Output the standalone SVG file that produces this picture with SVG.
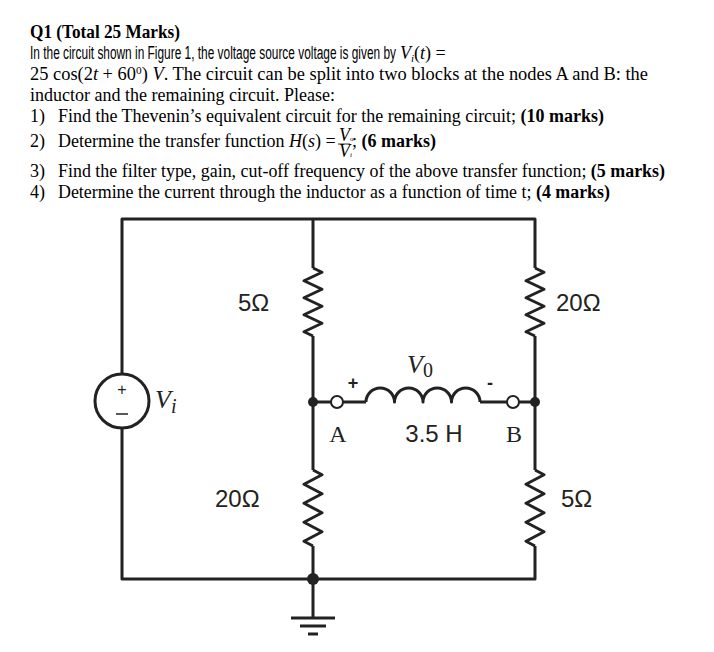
<svg xmlns="http://www.w3.org/2000/svg" width="714" height="652" viewBox="0 0 714 652">
<style>
.t{font-family:"Liberation Serif",serif;font-size:18px;fill:#000}
.c{font-family:"Liberation Sans",sans-serif;font-size:18px;fill:#000}
.w{stroke:#222;stroke-width:3;fill:none;stroke-linejoin:round}
.l{font-family:"Liberation Sans",sans-serif;font-size:24px;fill:#222}
.i{font-family:"Liberation Serif",serif;font-style:italic;font-size:26px;fill:#222}
</style>
<rect width="714" height="652" fill="#fff"/>
<g id="text">
<text class="t" x="30" y="38" font-weight="bold" textLength="150" lengthAdjust="spacingAndGlyphs">Q1 (Total 25 Marks)</text>
<text class="c" x="30" y="59" textLength="366" lengthAdjust="spacingAndGlyphs">In the circuit shown in Figure 1, the voltage source voltage is given by</text>
<text class="t" x="400" y="59" font-style="italic">V<tspan font-size="11" dy="3">i</tspan><tspan dy="-3" font-style="normal">(</tspan>t<tspan font-style="normal">) =</tspan></text>
<text class="t" x="30" y="80" textLength="618" lengthAdjust="spacingAndGlyphs">25 cos(2<tspan font-style="italic">t</tspan> + 60<tspan font-size="11" dy="-6">0</tspan><tspan dy="6">) </tspan><tspan font-style="italic">V</tspan>. The circuit can be split into two blocks at the nodes A and B: the</text>
<text class="t" x="30" y="101">inductor and the remaining circuit. Please:</text>
<text class="t" x="30" y="122">1)</text>
<text class="t" x="58" y="122" textLength="546" lengthAdjust="spacingAndGlyphs">Find the Thevenin’s equivalent circuit for the remaining circuit; <tspan font-weight="bold">(10 marks)</tspan></text>
<text class="t" x="30" y="147">2)</text>
<text class="t" x="58" y="147">Determine the transfer function <tspan font-style="italic">H</tspan>(<tspan font-style="italic">s</tspan>) =</text>
<text class="t" x="339" y="141" font-size="10" font-style="italic">V<tspan font-size="7" font-style="normal">o</tspan></text>
<line x1="338" y1="144" x2="350" y2="144" stroke="#000" stroke-width="0.8"/>
<text class="t" x="339" y="157" font-size="10" font-style="italic">V<tspan font-size="7">i</tspan></text>
<text class="t" x="352" y="147">; <tspan font-weight="bold">(6 marks)</tspan></text>
<text class="t" x="30" y="177">3)</text>
<text class="t" x="58" y="177" textLength="607" lengthAdjust="spacingAndGlyphs">Find the filter type, gain, cut-off frequency of the above transfer function; <tspan font-weight="bold">(5 marks)</tspan></text>
<text class="t" x="30" y="198">4)</text>
<text class="t" x="58" y="198" textLength="552" lengthAdjust="spacingAndGlyphs">Determine the current through the inductor as a function of time t; <tspan font-weight="bold">(4 marks)</tspan></text>
</g>
<g id="connectors">
<path class="w" d="M122 373 V219 H535 V268 M535 336 V470 M535 546 V579 H122 V429"/>
<path class="w" d="M313 219 V268 M313 336 V470 M313 546 V579 V618"/>
<path class="w" d="M313 402 H331 M343 402 H366 M480 402 H507 M519 402 H535"/>
<path class="w" d="M291 618 H335 M300 626 H326 M308 634 H318"/>
</g>
<g id="R1"><path class="w" d="M313 268 l9 4.25 l-18 8.5 l18 8.5 l-18 8.5 l18 8.5 l-18 8.5 l18 8.5 l-18 8.5 l9 4.25"/><text class="l" x="238" y="311">5Ω</text></g>
<g id="R2"><path class="w" d="M535 268 l9 4.25 l-18 8.5 l18 8.5 l-18 8.5 l18 8.5 l-18 8.5 l18 8.5 l-18 8.5 l9 4.25"/><text class="l" x="556" y="311">20Ω</text></g>
<g id="R3"><path class="w" d="M313 470 l9 4.75 l-18 9.5 l18 9.5 l-18 9.5 l18 9.5 l-18 9.5 l18 9.5 l-18 9.5 l9 4.75"/><text class="l" x="215" y="507">20Ω</text></g>
<g id="R4"><path class="w" d="M535 470 l9 4.75 l-18 9.5 l18 9.5 l-18 9.5 l18 9.5 l-18 9.5 l18 9.5 l-18 9.5 l9 4.75"/><text class="l" x="561" y="507">5Ω</text></g>
<g id="source">
<circle cx="122" cy="401" r="27" fill="#fff" stroke="#222" stroke-width="3"/>
<text x="122" y="395" text-anchor="middle" font-family="Liberation Sans,sans-serif" font-size="16" fill="#222">+</text>
<line x1="116" y1="414" x2="128" y2="414" stroke="#222" stroke-width="1.5"/>
<text class="i" x="155" y="408">V<tspan font-size="20" dy="5">i</tspan></text>
</g>
<g id="inductor">
<path class="w" d="M366 402 a14.25 14 0 0 1 28.5 0 a14.25 14 0 0 1 28.5 0 a14.25 14 0 0 1 28.5 0 a14.25 14 0 0 1 28.5 0"/>
<circle cx="337" cy="402" r="6" fill="#fff" stroke="#222" stroke-width="2"/>
<circle cx="513" cy="402" r="6" fill="#fff" stroke="#222" stroke-width="2"/>
<circle cx="313" cy="402" r="5" fill="#222"/>
<circle cx="535" cy="402" r="5" fill="#222"/>
<circle cx="313" cy="579" r="6" fill="#222"/>
<text class="i" x="407" y="373">V<tspan font-style="normal" font-size="20" dy="4">0</tspan></text>
<text x="353" y="389" text-anchor="middle" font-family="Liberation Sans,sans-serif" font-size="18" font-weight="bold" fill="#222">+</text>
<text x="490" y="389" text-anchor="middle" font-family="Liberation Sans,sans-serif" font-size="18" font-weight="bold" fill="#222">-</text>
<text x="338" y="442" text-anchor="middle" font-family="Liberation Serif,serif" font-size="24" fill="#222">A</text>
<text class="l" x="434" y="442" text-anchor="middle">3.5 H</text>
<text x="514" y="442" text-anchor="middle" font-family="Liberation Serif,serif" font-size="24" fill="#222">B</text>
</g>
</svg>
